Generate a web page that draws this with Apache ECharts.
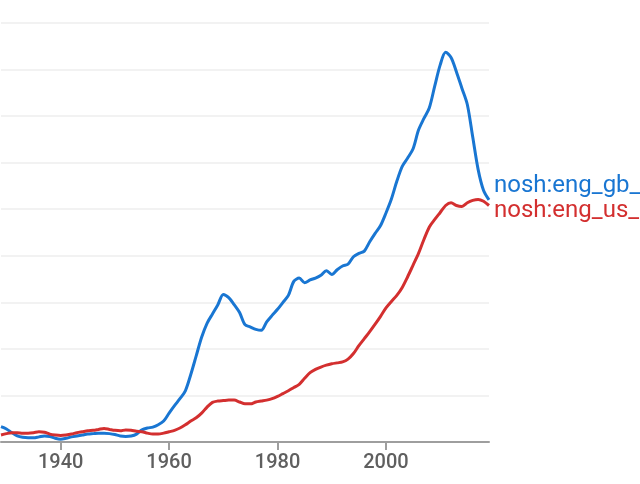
<!DOCTYPE html>
<html>
<head>
<meta charset="utf-8">
<script src="https://cdn.jsdelivr.net/npm/echarts@6/dist/echarts.min.js"></script>
<style>
html,body{margin:0;padding:0;background:#fff;}
#c{width:640px;height:484px;}
</style>
</head>
<body>
<div id="c"></div>
<script>
const startYear = 1929;
const seriesNames = ["nosh:eng_gb_2019", "nosh:eng_us_2019"];
const tickYears = [1940, 1960, 1980, 2000];
const gbValues = [
0.33,0.28,0.20,0.13,0.10,0.09,0.09,0.11,0.13,0.12,
0.08,0.06,0.08,0.11,0.13,0.15,0.17,0.18,0.19,0.19,
0.18,0.16,0.13,0.12,0.13,0.17,0.26,0.30,0.32,0.37,
0.45,0.62,0.78,0.93,1.10,1.45,1.85,2.25,2.55,2.75,
2.95,3.17,3.10,2.95,2.78,2.52,2.47,2.42,2.40,2.58,
2.72,2.85,3.00,3.15,3.45,3.52,3.42,3.48,3.52,3.58,
3.68,3.60,3.70,3.78,3.82,3.98,4.05,4.10,4.30,4.48,
4.65,4.92,5.22,5.60,5.92,6.10,6.30,6.70,6.95,7.18,
7.65,8.10,8.37,8.26,7.95,7.60,7.25,6.55,5.85,5.40,
5.20];
const usValues = [
0.15,0.18,0.20,0.20,0.19,0.19,0.20,0.22,0.21,0.17,
0.15,0.14,0.15,0.17,0.20,0.22,0.24,0.25,0.27,0.29,
0.27,0.25,0.24,0.26,0.25,0.23,0.22,0.19,0.17,0.17,
0.19,0.22,0.25,0.30,0.37,0.45,0.52,0.62,0.75,0.85,
0.88,0.89,0.90,0.90,0.86,0.82,0.82,0.86,0.88,0.90,
0.93,0.98,1.04,1.10,1.17,1.24,1.37,1.49,1.56,1.61,
1.65,1.68,1.70,1.72,1.78,1.90,2.07,2.22,2.37,2.53,
2.70,2.88,3.02,3.15,3.32,3.55,3.80,4.05,4.35,4.62,
4.78,4.93,5.08,5.14,5.08,5.06,5.14,5.19,5.21,5.17,
5.08];

function toPairs(vals){ return vals.map((v,i)=>[startYear+i, v]); }
const endYear = startYear + gbValues.length - 1;

const chart = echarts.init(document.getElementById('c'), null, {renderer:'canvas'});
chart.setOption({
  animation:false,
  backgroundColor:'#ffffff',
  grid:{left:1, right:151, top:23, bottom:42, containLabel:false},
  xAxis:{
    type:'value', min:startYear, max:endYear,
    axisLine:{show:true, lineStyle:{color:'#9e9e9e', width:2}},
    axisTick:{show:true, customValues:tickYears, length:8, lineStyle:{color:'#9e9e9e', width:2}},
    axisLabel:{customValues:tickYears, formatter:v=>String(v), color:'#5f5f5f', fontSize:20, fontWeight:500, fontFamily:'Roboto', margin:11},
    splitLine:{show:false}
  },
  yAxis:{
    type:'value', min:0, max:9, interval:1,
    axisLine:{show:false}, axisTick:{show:false}, axisLabel:{show:false},
    splitLine:{show:true, lineStyle:{color:'#eeeeee', width:1.5}}
  },
  series:[
    {name:seriesNames[0], type:'line', data:toPairs(gbValues), smooth:0.3, showSymbol:false,
     lineStyle:{color:'#1976d2', width:3}, itemStyle:{color:'#1976d2'},
     endLabel:{show:true, formatter:'{a}', color:'#1976d2', fontSize:24, fontFamily:'Roboto', distance:5, offset:[0,-14]}},
    {name:seriesNames[1], type:'line', data:toPairs(usValues), smooth:0.3, showSymbol:false,
     lineStyle:{color:'#d32f2f', width:3}, itemStyle:{color:'#d32f2f'},
     endLabel:{show:true, formatter:'{a}', color:'#d32f2f', fontSize:24, fontFamily:'Roboto', distance:5, offset:[0,6]}}
  ]
});
</script>
</body>
</html>
